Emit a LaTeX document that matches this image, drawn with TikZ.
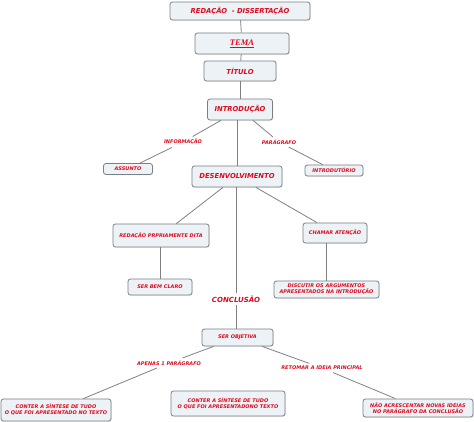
\documentclass[tikz,border=0pt]{standalone}
\usepackage{fontspec}
\newfontfamily\djv{DejaVu Sans}
\newfontfamily\libser{Liberation Serif}
\usetikzlibrary{shadows}
\definecolor{txtred}{RGB}{222,10,30}
\definecolor{boxfill}{RGB}{236,242,245}
\definecolor{boxline}{RGB}{120,128,134}
\definecolor{conn}{RGB}{128,128,128}
\tikzset{
  bx/.style={draw=boxline, fill=boxfill, line width=0.8pt, rounded corners=2.5pt,
    drop shadow={shadow xshift=0.7pt, shadow yshift=-0.7pt, fill=gray!45},
    text=txtred, font=\djv\bfseries\itshape\fontsize{5}{6}\selectfont,
    align=center, inner sep=0pt},
  big/.style={font=\djv\bfseries\itshape\fontsize{6.8}{8}\selectfont},
  lbl/.style={text=txtred, font=\djv\bfseries\itshape\fontsize{5}{6}\selectfont, inner sep=2.5pt},
  cn/.style={draw=conn, line width=0.8pt}
}
\begin{document}
\begin{tikzpicture}[x=1pt,y=-1pt]
\useasboundingbox (0,0) rectangle (474,422);
% boxes
\node[bx,big,minimum width=140pt,minimum height=18pt] (root) at (240,11) {REDAÇÃO \ - DISSERTAÇÃO};
\node[bx,minimum width=94pt,minimum height=21pt,font=\libser\bfseries\itshape\fontsize{8.5}{10}\selectfont] (tema) at (242,43.5) {\underline{TEMA}};
\node[bx,big,minimum width=72pt,minimum height=20pt] (titulo) at (240,71) {TÍTULO};
\node[bx,big,minimum width=65pt,minimum height=21pt] (intro) at (240,109.5) {INTRODUÇÃO};
\node[lbl] (info) at (183,142) {INFORMAÇÃO};
\node[lbl] (para) at (279,142) {PARÁGRAFO};
\node[bx,minimum width=49pt,minimum height=11pt] (assunto) at (128,169) {ASSUNTO};
\node[bx,minimum width=58pt,minimum height=11pt] (introd) at (334,170.5) {INTRODUTÓRIO};
\node[bx,big,minimum width=90pt,minimum height=21pt] (desenv) at (237,176.5) {DESENVOLVIMENTO};
\node[bx,minimum width=96pt,minimum height=23pt] (rpd) at (161,235.5) {REDAÇÃO PRPRIAMENTE DITA};
\node[bx,minimum width=64pt,minimum height=20pt] (chamar) at (335,233) {CHAMAR ATENÇÃO};
\node[bx,minimum width=64pt,minimum height=16pt] (claro) at (160,287) {SER BEM CLARO};
\node[bx,minimum width=105pt,minimum height=17pt] (discutir) at (326.5,289.5) {DISCUTIR OS ARGUMENTOS\\APRESENTADOS NA INTRODUÇÃO};
\node[lbl,font=\djv\bfseries\itshape\fontsize{7}{8}\selectfont,inner sep=3pt] (conc) at (236,299) {CONCLUSÃO};
\node[bx,minimum width=71pt,minimum height=17pt] (obj) at (237.5,337.5) {SER OBJETIVA};
\node[lbl] (apenas) at (169,363) {APENAS 1 PARÁGRAFO};
\node[lbl] (retomar) at (322,368) {RETOMAR A IDEIA PRINCIPAL};
\node[bx,minimum width=110pt,minimum height=22pt] (conterA) at (56,410) {CONTER A SÍNTESE DE TUDO\\O QUE FOI APRESENTADO NO TEXTO};
\node[bx,minimum width=114pt,minimum height=25pt] (conterB) at (228,403.5) {CONTER A SÍNTESE DE TUDO\\O QUE FOI APRESENTADONO TEXTO};
\node[bx,minimum width=110pt,minimum height=18pt] (naoacr) at (418,408) {NÃO ACRESCENTAR NOVAS IDEIAS\\NO PARÁGRAFO DA CONCLUSÃO};
% connectors
\begin{scope}[on background layer/.style={}]
\draw[cn] (root) -- (tema);
\draw[cn] (tema) -- (titulo);
\draw[cn] (titulo) -- (intro);
\draw[cn] (intro) -- (info);
\draw[cn] (info) -- (assunto);
\draw[cn] (intro) -- (para);
\draw[cn] (para) -- (introd);
\draw[cn] (intro.south -| desenv.north) -- (desenv.north);
\draw[cn] (desenv) -- (rpd);
\draw[cn] (desenv) -- (chamar);
\draw[cn] (desenv.south -| conc.north) -- (conc.north);
\draw[cn] (rpd.south -| claro.north) -- (claro.north);
\draw[cn] (chamar.south -| discutir.north) -- (discutir.north);
\draw[cn] (conc.south) -- (conc.south |- obj.north);
\draw[cn] (obj) -- (apenas);
\draw[cn] (apenas) -- (conterA);
\draw[cn] (obj) -- (retomar);
\draw[cn] (retomar) -- (naoacr);
\end{scope}
\end{tikzpicture}
\end{document}
